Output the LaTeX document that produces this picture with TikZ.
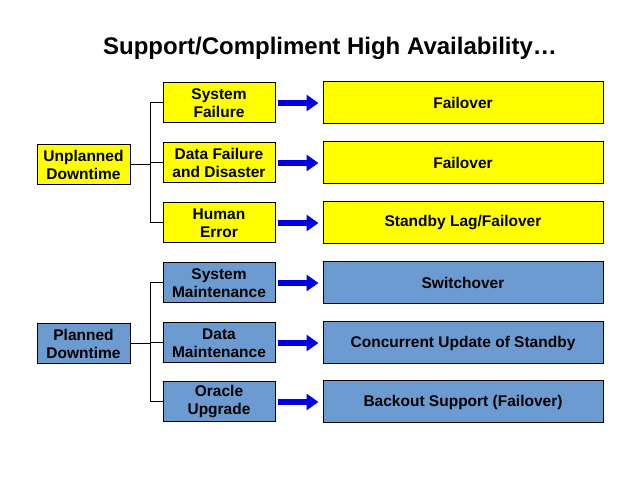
\documentclass[tikz,border=0pt]{standalone}
\usepackage{fontspec}
\setmainfont{Liberation Sans}
\usetikzlibrary{arrows.meta}
\definecolor{yb}{HTML}{FFFF00}
\definecolor{bb}{HTML}{6C9BD2}
\definecolor{ar}{HTML}{0000E0}
\begin{document}
\begin{tikzpicture}[x=1pt,y=-1pt,
 box/.style={draw=black,line width=1pt,font=\bfseries\fontsize{15.5}{18}\selectfont,align=center,inner sep=0pt},
 lb/.style={box,minimum width=93pt,minimum height=40pt},
 mb/.style={box,minimum width=112pt,minimum height=40pt},
 rb/.style={box,minimum width=280pt,minimum height=42pt},
 arr/.style={ar,line width=6pt,-{Triangle[length=12pt,width=16pt]}},
 tree/.style={line width=1pt}]
\useasboundingbox (0,0) rectangle (638,478);
\node[font=\bfseries\fontsize{24}{26}\selectfont] (t) at (330,48) {Support/Compliment High Availability…};
\node[lb,fill=yb] (u) at (83.5,165) {Unplanned\\Downtime};
\node[lb,fill=bb] (p) at (83.5,344) {Planned\\Downtime};
\foreach \n/\y/\c/\m/\r in {
 a/103/yb/{System\\Failure}/Failover,
 b/163/yb/{Data Failure\\and Disaster}/Failover,
 c/223/yb/{Human\\Error}/{Standby Lag/Failover},
 d/283/bb/{System\\Maintenance}/Switchover,
 e/343/bb/{Data\\Maintenance}/{Concurrent Update of Standby},
 f/402/bb/{Oracle\\Upgrade}/{Backout Support (Failover)}}{
 \node[mb,fill=\c] (m\n) at (219,\y) {\m};
 \node[rb,fill=\c] (r\n) at (463,\y) {\r};
 \draw[arr] (m\n.east) ++(2,0) -- ([xshift=-4pt]r\n.west);
}
\draw[tree] (u.east) -- (150,165);
\draw[tree] (ma.west) -| (150,223) -- (mc.west);
\draw[tree] (mb.west) -- (150,163);
\draw[tree] (p.east) -- (150,344);
\draw[tree] (md.west) -| (150,402) -- (mf.west);
\draw[tree] (me.west) -- (150,343);
\end{tikzpicture}
\end{document}
